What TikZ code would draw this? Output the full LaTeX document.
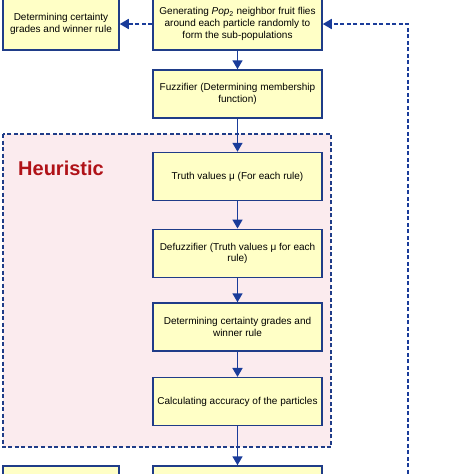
\documentclass[tikz,border=0pt]{standalone}
\usepackage{fontspec}
\setmainfont{Liberation Sans}
\usetikzlibrary{arrows.meta}
\definecolor{navy}{HTML}{1F3C88}
\definecolor{arrowblue}{HTML}{1A3C9A}
\definecolor{boxfill}{HTML}{FFFFC6}
\definecolor{heurfill}{HTML}{FBEBEE}
\definecolor{heurred}{HTML}{B01218}
\tikzset{
  flowbox/.style={draw=navy, line width=1.5pt, fill=boxfill, minimum width=169pt,
    minimum height=48pt, inner sep=2pt, align=center, font=\fontsize{10}{11.6}\selectfont},
  smallbox/.style={flowbox, minimum width=116pt},
  flowarrow/.style={draw=arrowblue, line width=1.7pt, -{Triangle[width=10pt,length=9pt]}},
  dasharrow/.style={flowarrow, dash pattern=on 4pt off 2.5pt},
  heurbox/.style={draw=navy, line width=1.1pt, fill=heurfill, dash pattern=on 4pt off 2.5pt}
}
\begin{document}
\begin{tikzpicture}[x=1pt,y=-1pt]
\useasboundingbox (0,0) rectangle (474,474);
\clip (0,0) rectangle (474,474);
\fill[white] (0,0) rectangle (474,474);
\draw[heurbox] (3,134) rectangle (331,447);
\node[anchor=base west, text=heurred, font=\fontsize{20}{24}\selectfont\bfseries, inner sep=0pt] (heur) at (18,175) {Heuristic};

\node[flowbox, minimum height=52pt] (gen) at (237.5,24) {\raisebox{-2pt}{\parbox{165pt}{\centering Generating \textit{Pop}\textsubscript{2} neighbor fruit flies\\around each particle randomly to\\form the sub-populations}}};
\node[smallbox, minimum height=52pt] (cert0) at (61,24) {\raisebox{-2pt}{\parbox{112pt}{\centering Determining certainty\\grades and winner rule}}};
\node[flowbox] (fuzz) at (237.5,94) {Fuzzifier (Determining membership\\function)};
\node[flowbox] (truth) at (237.5,176.5) {Truth values μ (For each rule)};
\node[flowbox] (defuzz) at (237.5,253.3) {Defuzzifier (Truth values μ for each\\rule)};
\node[flowbox] (cert) at (237.5,327) {Determining certainty grades and\\winner rule};
\node[flowbox] (calc) at (237.5,401.7) {Calculating accuracy of the particles};
\node[flowbox] (next) at (237.5,490) {};
\node[smallbox] (left) at (61,490) {};
\coordinate (loopend) at (408,480);

\draw[flowarrow] (gen) -- (fuzz);
\draw[flowarrow] (fuzz) -- (truth);
\draw[flowarrow] (truth) -- (defuzz);
\draw[flowarrow] (defuzz) -- (cert);
\draw[flowarrow] (cert) -- (calc);
\draw[flowarrow] (calc) -- (next);
\draw[dasharrow] (gen) -- (cert0);
\draw[dasharrow] (loopend) |- (gen);
\end{tikzpicture}
\end{document}
